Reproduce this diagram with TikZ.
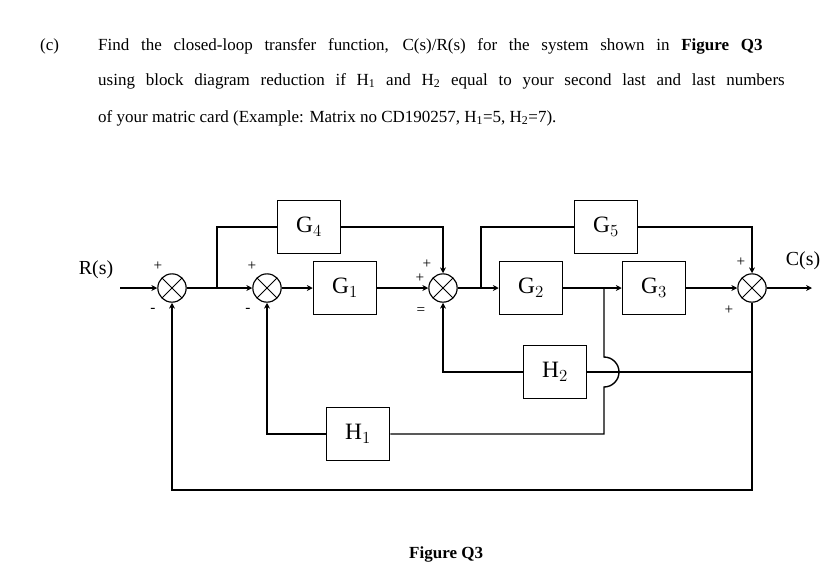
\documentclass[tikz,border=0pt]{standalone}
\usepackage{fontspec}
\setmainfont{Liberation Serif}
\usetikzlibrary{arrows.meta}
\begin{document}
\begin{tikzpicture}[x=0.03cm,y=-0.03cm,
  blk/.style={draw,line width=1pt,minimum width=1.9cm,minimum height=1.6cm,font=\fontsize{20}{22}\selectfont,inner sep=0pt},
  sum/.style={draw,line width=1pt,circle,minimum size=0.85cm,inner sep=0pt,path picture={\draw[line width=0.8pt] (path picture bounding box.south west)--(path picture bounding box.north east) (path picture bounding box.north west)--(path picture bounding box.south east);}},
  w/.style={line width=1.2pt},
  a/.style={w,-{Stealth[length=5pt,width=5pt]}},
  sg/.style={font=\fontsize{13}{13}\selectfont,inner sep=0pt},
  txt/.style={anchor=base west,inner sep=0pt,font=\fontsize{14.5}{16}\selectfont}]
\useasboundingbox (0,0) rectangle (840,582);
\node[txt] (c) at (40,50) {(c)};
\node[txt] (l1) at (98,50) {\makebox[567pt][s]{Find the closed-loop transfer function, C(s)/R(s) for the system shown in \textbf{Figure Q3}}};
\node[txt] (l2) at (98,85) {\makebox[586pt][s]{using block diagram reduction if H\textsubscript{1} and H\textsubscript{2} equal to your second last and last numbers}};
\node[txt] (l3) at (98,122) {of your matric card (Example: Matrix no CD190257, H\textsubscript{1}=5, H\textsubscript{2}=7).};
\node[txt,font=\fontsize{14.5}{16}\selectfont\bfseries] (fig) at (409,558) {Figure Q3};
% sums
\node[sum] (s1) at (172,288) {};
\node[sum] (s2) at (267,288) {};
\node[sum] (s3) at (443,288) {};
\node[sum] (s4) at (752,288) {};
% blocks
\node[blk] (G4) at (309,227) {G$_4$};
\node[blk] (G1) at (345,288) {G$_1$};
\node[blk] (G2) at (531,288) {G$_2$};
\node[blk] (G3) at (654,288) {G$_3$};
\node[blk] (G5) at (606,227) {G$_5$};
\node[blk] (H2) at (555,372) {H$_2$};
\node[blk] (H1) at (358,434) {H$_1$};
\node[font=\fontsize{17}{17}\selectfont] (R) at (96,270) {R(s)};
\node[font=\fontsize{17}{17}\selectfont] (C) at (803,261) {C(s)};
\coordinate (rin) at (120,288);
\coordinate (cout) at (812,288);
\coordinate (b1) at (217,288);
\coordinate (b3) at (481,288);
\coordinate (b23) at (604,288);
% forward path
\draw[a] (rin) -- (s1);
\draw[a] (s1) -- (s2);
\draw[a] (s2) -- (G1);
\draw[a] (G1) -- (s3);
\draw[a] (s3) -- (G2);
\draw[a] (G2) -- (G3);
\draw[a] (G3) -- (s4);
\draw[a] (s4) -- (cout);
% G4 feedforward
\draw[w] (b1) |- (G4);
\draw[a] (G4) -| (s3);
% G5 feedforward
\draw[w] (b3) |- (G5);
\draw[a] (G5) -| (s4);
% H2 loop
\draw[w] (s4.south) |- (H2);
\draw[a] (H2) -| (s3);
% H1 loop with hop
\draw[w] (b23) -- (604,357) arc[start angle=-90,end angle=90,radius=15] -- (604,434) -- (H1.east);
\draw[a] (H1) -| (s2);
% outer loop
\draw[a] (s4.south) -- (752,490) -| (s1);
% signs
\node[sg] at (158,266) {+};
\node[sg] at (153,310) {-};
\node[sg] at (252,266) {+};
\node[sg] at (248,310) {-};
\node[sg] at (427,264) {+};
\node[sg] at (420,278) {+};
\node[sg] at (421,311) {=};
\node[sg] at (741,262) {+};
\node[sg] at (729,310) {+};
\end{tikzpicture}
\end{document}
